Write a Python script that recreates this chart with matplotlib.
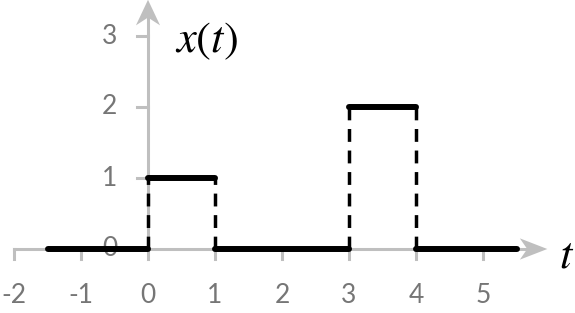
import matplotlib
matplotlib.use('Agg')
import matplotlib.pyplot as plt
from matplotlib.patches import Polygon

# pulsos x(t): segmentos horizontais (inicio, fim, nivel)
segmentos = [(-1.5, 0, 0), (0, 1, 1), (1, 3, 0), (3, 4, 2), (4, 5.5, 0)]
# bordas verticais tracejadas (t, altura)
bordas = [(0, 1), (1, 1), (3, 2), (4, 2)]
xticks = [-2, -1, 0, 1, 2, 3, 4, 5]
yticks = [0, 1, 2, 3]

plt.rcParams['mathtext.fontset'] = 'stix'

fig = plt.figure(figsize=(5.75, 3.13), dpi=100)
ax = fig.add_axes([0, 0, 1, 1])
ax.set_xlim(-148 / 67, 427 / 67)
ax.set_ylim(-64 / 71, 249 / 71)
ax.axis('off')

cinza = '#bfbfbf'
texto = '#767676'

# eixos com setas (ponta tipo "stealth")
ax.plot([-2, 5.65], [0, 0], color=cinza, lw=2.2, zorder=1)
ax.plot([0, 0], [0, 3.25], color=cinza, lw=2.2, zorder=1)
ax.add_patch(Polygon([(5.96, 0), (5.55, 0.15), (5.66, 0), (5.55, -0.15)],
                     closed=True, color=cinza, lw=0, zorder=1))
ax.add_patch(Polygon([(0, 3.51), (-0.18, 3.15), (0, 3.26), (0.18, 3.15)],
                     closed=True, color=cinza, lw=0, zorder=1))

# marcas e rótulos
for t in xticks:
    ax.plot([t, t], [0, -0.14], color=cinza, lw=2.2, zorder=1)
    ax.text(t, -0.65, str(t), ha='center', va='center', fontsize=19,
            color=texto, family='Lato')
for v in yticks:
    if v > 0:
        ax.plot([-0.16, 0], [v, v], color=cinza, lw=2.2, zorder=1)
    ax.text(-0.57, v, str(v), ha='center', va='center', fontsize=19,
            color=texto, family='Lato', zorder=1)

# sinal
for a, b, nivel in segmentos:
    ax.plot([a, b], [nivel, nivel], color='black', lw=4.3, solid_capstyle='round', zorder=3)
for t, h in bordas:
    ax.plot([t, t], [0, h], color='black', lw=2.5, dashes=(3.7, 2.5), zorder=2)

ax.text(0.40, 2.94, '$x(t)$', fontsize=32, ha='left', va='center')
ax.text(6.13, -0.09, '$t$', fontsize=32, ha='left', va='center')

plt.savefig('out.png', dpi=100)
